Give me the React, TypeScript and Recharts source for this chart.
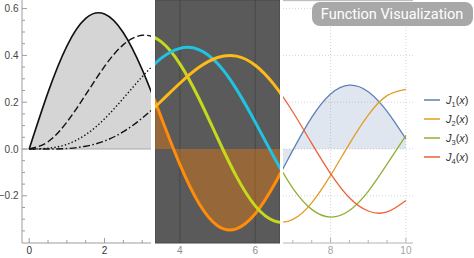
import React from 'react';
import {
  ComposedChart,
  Line,
  Area,
  XAxis,
  YAxis,
  CartesianGrid,
  ReferenceLine,
  Legend,
} from 'recharts';

const xValues = [0, 0.5, 1, 1.5, 2, 2.5, 3, 3.5, 4, 4.5, 5, 5.5, 6, 6.5, 7, 7.5, 8, 8.5, 9, 9.5, 10];
const j1Values = [0, 0.242, 0.44, 0.558, 0.577, 0.497, 0.339, 0.137, -0.066, -0.231, -0.328, -0.341, -0.277, -0.154, -0.005, 0.135, 0.235, 0.273, 0.245, 0.161, 0.043];
const j2Values = [0, 0.031, 0.115, 0.232, 0.353, 0.446, 0.486, 0.459, 0.364, 0.218, 0.047, -0.117, -0.243, -0.307, -0.301, -0.23, -0.113, 0.022, 0.145, 0.228, 0.255];
const j3Values = [0, 0.003, 0.02, 0.061, 0.129, 0.217, 0.309, 0.387, 0.43, 0.425, 0.365, 0.256, 0.115, -0.035, -0.168, -0.258, -0.291, -0.263, -0.181, -0.065, 0.058];
const j4Values = [0, 0.0, 0.002, 0.012, 0.034, 0.074, 0.132, 0.204, 0.281, 0.348, 0.391, 0.397, 0.358, 0.275, 0.158, 0.024, -0.105, -0.208, -0.265, -0.269, -0.22];

const legendIndices = ['1', '2', '3', '4'];
const titleText = 'Function Visualization';

const xMajorTicks = [0, 2, 4, 6, 8, 10];
const xMajorLabels = ['0', '2', '4', '6', '8', '10'];
const leftXTicks = [0, 0.5, 1, 1.5, 2, 2.5, 3];
const middleXTicks = [4, 6];
const rightXTicks = [7, 7.5, 8, 8.5, 9, 9.5, 10];
const yMajorTicks = [-0.2, 0, 0.2, 0.4, 0.6];
const yMajorLabels = ['\u22120.2', '0.0', '0.2', '0.4', '0.6'];
const yAllTicks = [-0.35, -0.3, -0.25, -0.2, -0.15, -0.1, -0.05, 0, 0.05, 0.1, 0.15, 0.2, 0.25, 0.3, 0.35, 0.4, 0.45, 0.5, 0.55, 0.6];
const gridYValues = [-0.2, 0, 0.2, 0.4];
const rightGridX = [8, 10];
const rightGridY = [-0.2, 0, 0.2, 0.4, 0.6];

const data = xValues.map((x, i) => ({
  x,
  j1: j1Values[i],
  j2: j2Values[i],
  j3: j3Values[i],
  j4: j4Values[i],
}));

// ---------------- layout ----------------
const X_PX0 = 29.2;
const X_PXU = 37.67;
const pxToX = (px: number) => (px - X_PX0) / X_PXU;
const Y_ZERO_PX = 149;
const Y_PXU = 234;
const PLOT_BOTTOM = 243;
const yDomain: [number, number] = [-(PLOT_BOTTOM - Y_ZERO_PX) / Y_PXU, Y_ZERO_PX / Y_PXU];

const LEFT = { l: 22, r: 151 };
const MID = { l: 155, r: 280 };
const RIGHT = { l: 283, r: 413 };

const FONT = '"Liberation Sans", Arial, sans-serif';
const AXIS_GRAY = '#9c9c9c';

const findLabel = (v: number, majors: number[], labels: string[]) => {
  const i = majors.findIndex((m) => Math.abs(m - v) < 1e-6);
  return i >= 0 ? labels[i] : null;
};

function BottomTick(props: any) {
  const { x, y, payload, labelColor, tickColor, drawTicks } = props;
  const axisY = y - 8;
  const label = findLabel(payload.value, xMajorTicks, xMajorLabels);
  return (
    <g>
      {drawTicks && (
        <line x1={x} x2={x} y1={axisY} y2={axisY - (label ? 5 : 3)} stroke={tickColor} strokeWidth={1} />
      )}
      {label && (
        <text x={x} y={axisY + 11} textAnchor="middle" fontSize={10} fontFamily={FONT} fill={labelColor}>
          {label}
        </text>
      )}
    </g>
  );
}

function TopTick(props: any) {
  const { x, y, payload } = props;
  const axisY = y + 8;
  const label = findLabel(payload.value, xMajorTicks, xMajorLabels);
  return <line x1={x} x2={x} y1={axisY} y2={axisY + (label ? 5 : 3)} stroke={AXIS_GRAY} strokeWidth={1} />;
}

function LeftTick(props: any) {
  const { x, y, payload } = props;
  const axisX = x + 8;
  const label = findLabel(payload.value, yMajorTicks, yMajorLabels);
  return (
    <g>
      <line x1={axisX} x2={axisX + (label ? 5 : 3)} y1={y} y2={y} stroke={AXIS_GRAY} strokeWidth={1} />
      {label && (
        <text x={axisX - 3.5} y={y + 3.5} textAnchor="end" fontSize={10} fontFamily={FONT} fill="#444">
          {label}
        </text>
      )}
    </g>
  );
}

function RightTick(props: any) {
  const { x, y, payload } = props;
  const axisX = x - 8;
  const label = findLabel(payload.value, yMajorTicks, yMajorLabels);
  return <line x1={axisX} x2={axisX - (label ? 5 : 3)} y1={y} y2={y} stroke="#b4b4b4" strokeWidth={1} />;
}

function LeftPanel() {
  const width = LEFT.r + 2;
  return (
    <ComposedChart width={width} height={258} data={data} margin={{ top: 0, right: 2, bottom: 0, left: 0 }}>
      <XAxis
        dataKey="x"
        type="number"
        domain={[pxToX(LEFT.l), pxToX(LEFT.r)]}
        allowDataOverflow
        ticks={leftXTicks}
        interval={0}
        height={15}
        tickSize={6}
        tickMargin={2}
        tickLine={false}
        axisLine={{ stroke: AXIS_GRAY }}
        tick={(p: any) => <BottomTick {...p} labelColor="#333" tickColor={AXIS_GRAY} drawTicks />}
      />
      <XAxis
        xAxisId="top"
        orientation="top"
        dataKey="x"
        type="number"
        domain={[pxToX(LEFT.l), pxToX(LEFT.r)]}
        allowDataOverflow
        ticks={leftXTicks}
        interval={0}
        height={0}
        tickSize={6}
        tickMargin={2}
        tickLine={false}
        axisLine={false}
        tick={(p: any) => <TopTick {...p} />}
      />
      <YAxis
        type="number"
        domain={yDomain}
        allowDataOverflow
        ticks={yAllTicks}
        interval={0}
        width={22}
        tickSize={6}
        tickMargin={2}
        tickLine={false}
        axisLine={{ stroke: AXIS_GRAY }}
        tick={(p: any) => <LeftTick {...p} />}
      />
      <Area type="natural" dataKey="j1" baseValue={0} fill="#d5d5d5" fillOpacity={1} stroke="none" isAnimationActive={false} activeDot={false} />
      <ReferenceLine y={0} stroke="#a8a8a8" strokeWidth={1} />
      <Line type="natural" dataKey="j1" stroke="#111" strokeWidth={1.6} dot={false} isAnimationActive={false} />
      <Line type="natural" dataKey="j2" stroke="#111" strokeWidth={1.4} strokeDasharray="7 3" dot={false} isAnimationActive={false} />
      <Line type="natural" dataKey="j3" stroke="#111" strokeWidth={1.4} strokeDasharray="1.4 2.2" dot={false} isAnimationActive={false} />
      <Line type="natural" dataKey="j4" stroke="#111" strokeWidth={1.4} strokeDasharray="7 2.5 1.5 2.5" dot={false} isAnimationActive={false} />
    </ComposedChart>
  );
}

function MiddlePanel() {
  const width = MID.r - MID.l;
  return (
    <ComposedChart width={width} height={258} data={data} margin={{ top: 0, right: 0, bottom: 0, left: 0 }}>
      <CartesianGrid fill="#5a5a5a" fillOpacity={1} stroke="#474747" strokeWidth={1} />
      <XAxis
        dataKey="x"
        type="number"
        domain={[pxToX(MID.l), pxToX(MID.r)]}
        allowDataOverflow
        ticks={middleXTicks}
        interval={0}
        height={15}
        tickSize={6}
        tickMargin={2}
        tickLine={false}
        axisLine={false}
        tick={(p: any) => <BottomTick {...p} labelColor="#8c8c8c" drawTicks={false} />}
      />
      <YAxis
        type="number"
        domain={yDomain}
        allowDataOverflow
        ticks={gridYValues}
        interval={0}
        width={0}
        tick={false}
        tickLine={false}
        axisLine={false}
      />
      <Area type="natural" dataKey="j1" baseValue={0} fill="#ff8000" fillOpacity={0.36} stroke="none" isAnimationActive={false} activeDot={false} />
      <Line type="natural" dataKey="j1" stroke="#ff8c0a" strokeWidth={3} dot={false} isAnimationActive={false} />
      <Line type="natural" dataKey="j2" stroke="#c6da1c" strokeWidth={3} dot={false} isAnimationActive={false} />
      <Line type="natural" dataKey="j3" stroke="#20c4e2" strokeWidth={3} dot={false} isAnimationActive={false} />
      <Line type="natural" dataKey="j4" stroke="#fdba18" strokeWidth={3} dot={false} isAnimationActive={false} />
    </ComposedChart>
  );
}

const rightColors = ['#5e81b5', '#e19c24', '#8fb032', '#eb6235'];

function LegendContent() {
  return (
    <svg width={50} height={76} style={{ display: 'block' }}>
      {legendIndices.map((n, i) => {
        const cy = 10 + i * 19;
        return (
          <g key={n}>
            <line x1={0} x2={16} y1={cy} y2={cy} stroke={rightColors[i]} strokeWidth={1.5} />
            <text x={22} y={cy + 4} fontSize={11} fontFamily={FONT} fill="#333">
              <tspan fontStyle="italic">J</tspan>
              <tspan fontSize={7.5} dy={2.5}>{n}</tspan>
              <tspan dy={-2.5}>(</tspan>
              <tspan fontStyle="italic">x</tspan>
              <tspan>)</tspan>
            </text>
          </g>
        );
      })}
    </svg>
  );
}

function RightPanel() {
  const width = 474 - RIGHT.l;
  const plotW = RIGHT.r - RIGHT.l;
  return (
    <ComposedChart width={width} height={258} data={data} margin={{ top: 0, right: width - plotW, bottom: 0, left: 0 }}>
      <CartesianGrid stroke="#d4d4d4" strokeDasharray="1 2" verticalValues={rightGridX} horizontalValues={rightGridY} />
      <XAxis
        dataKey="x"
        type="number"
        domain={[pxToX(RIGHT.l), pxToX(RIGHT.r)]}
        allowDataOverflow
        ticks={rightXTicks}
        interval={0}
        height={15}
        tickSize={6}
        tickMargin={2}
        tickLine={false}
        axisLine={{ stroke: '#b4b4b4' }}
        tick={(p: any) => <BottomTick {...p} labelColor="#a4a4a4" tickColor="#b4b4b4" drawTicks />}
      />
      <YAxis
        orientation="right"
        type="number"
        domain={yDomain}
        allowDataOverflow
        ticks={yAllTicks}
        interval={0}
        width={0}
        tickSize={6}
        tickMargin={2}
        tickLine={false}
        axisLine={{ stroke: '#b4b4b4' }}
        tick={(p: any) => <RightTick {...p} />}
      />
      <ReferenceLine y={0.634} stroke="#b4b4b4" strokeWidth={1} />
      <Area type="natural" dataKey="j1" baseValue={0} fill="#5e81b5" fillOpacity={0.2} stroke="none" isAnimationActive={false} activeDot={false} legendType="none" />
      {['j1', 'j2', 'j3', 'j4'].map((k, i) => (
        <Line key={k} type="natural" dataKey={k} stroke={rightColors[i]} strokeWidth={1.3} dot={false} isAnimationActive={false} />
      ))}
      <Legend
        layout="vertical"
        align="center"
        verticalAlign="middle"
        wrapperStyle={{ left: 141, top: 90, width: 50, height: 76 }}
        content={() => <LegendContent />}
      />
    </ComposedChart>
  );
}

export default function App() {
  return (
    <div style={{ position: 'absolute', left: 0, top: 0, width: 474, height: 258, background: '#fff', overflow: 'hidden' }}>
      <div style={{ position: 'absolute', left: 0, top: 0 }}>
        <LeftPanel />
      </div>
      <div style={{ position: 'absolute', left: MID.l, top: 0 }}>
        <MiddlePanel />
      </div>
      <div style={{ position: 'absolute', left: RIGHT.l, top: 0 }}>
        <RightPanel />
      </div>
      <svg width={474} height={258} style={{ position: 'absolute', left: 0, top: 0, pointerEvents: 'none' }}>
        <rect x={312} y={2} width={161} height={24} rx={8} ry={8} fill="#a8a8a8" />
        <text x={392} y={19} fill="#fff" fontSize={14.5} fontFamily="Roboto, sans-serif" textAnchor="middle">
          {titleText}
        </text>
      </svg>
    </div>
  );
}
